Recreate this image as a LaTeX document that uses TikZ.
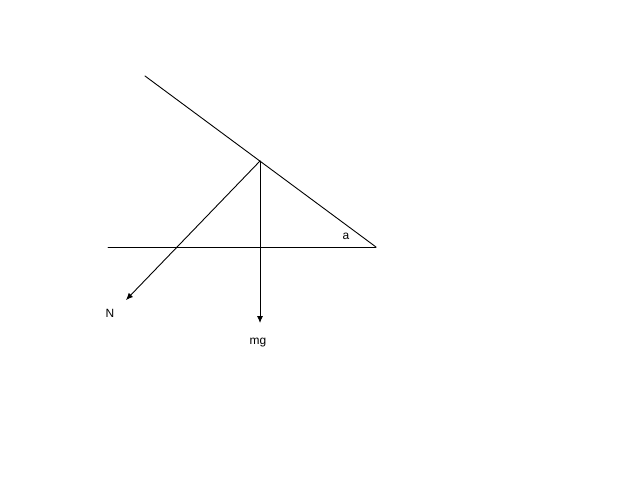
\documentclass[tikz,border=0pt]{standalone}
\usepackage{fontspec}
\setmainfont{Liberation Sans}
\usetikzlibrary{arrows.meta}

\begin{document}
\begin{tikzpicture}[line cap=round,line join=round,x=1bp,y=-1bp,
    force/.style={line width=0.9pt,-{Latex[length=7bp,width=6bp]}},
    plane/.style={line width=0.9pt},
    lbl/.style={font=\fontsize{12}{14}\selectfont,inner sep=0pt}]

    \useasboundingbox (0,0) rectangle (640,480);

    \coordinate (top) at (145,76);
    \coordinate (foot) at (376,247);
    \coordinate (left) at (108,247);
    \coordinate (P) at (260,161);
    \coordinate (Nend) at (126,300);
    \coordinate (Gend) at (260,323);

    % incline and ground
    \draw [plane] (top) -- (foot);
    \draw [plane] (left) -- (foot);

    % forces
    \draw [force] (P) -- (Nend);
    \draw [force] (P) -- (Gend);

    \node [lbl] (N) at (110,313) {N};
    \node [lbl] (mg) at (258,343) {mg};
    \node [lbl] (a) at (346,236) {a};
\end{tikzpicture}
\end{document}
